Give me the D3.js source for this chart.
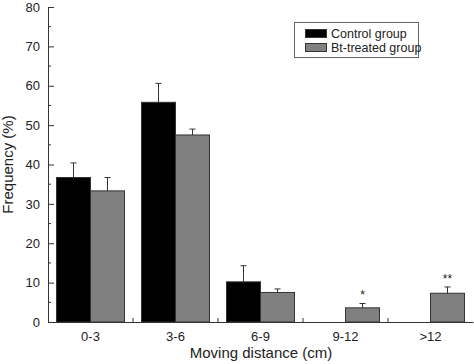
<!DOCTYPE html>
<html><head><meta charset="utf-8">
<script src="https://cdn.jsdelivr.net/npm/d3@7"></script>
<style>body{margin:0;background:#fff}svg{display:block}</style>
</head><body>
<script>
const categories = ["0-3","3-6","6-9","9-12",">12"];
const seriesNames = ["Control group","Bt-treated group"];
const controlValues = [36.7, 55.8, 10.2, 0, 0];
const controlErrors = [3.7, 4.8, 4.1, 0, 0];
const btValues = [33.3, 47.5, 7.5, 3.6, 7.3];
const btErrors = [3.4, 1.5, 0.9, 1.1, 1.6];
const significance = ["", "", "", "*", "**"];
const yTicks = [0,10,20,30,40,50,60,70,80];

const W=474,H=364;
const m={l:48,r:1,t:7,b:42};
const svg=d3.select("body").append("svg").attr("width",W).attr("height",H);
const font="Liberation Sans, Arial, sans-serif";
const x=d3.scaleBand().domain(categories).range([m.l,W-m.r]);
const y=d3.scaleLinear().domain([0,80]).range([H-m.b,m.t]);
const colors=["#000000","#808080"];
const bw=34;

// bars
const series=[{v:controlValues,e:controlErrors,c:colors[0],both:false},{v:btValues,e:btErrors,c:colors[1],both:true}];
series.forEach((s,si)=>{
  categories.forEach((cat,i)=>{
    if(s.v[i]<=0) return;
    const cx=x(cat)+x.bandwidth()/2;
    const x0=cx-bw+si*bw;
    // error bar
    const xm=x0+bw/2;
    const top=y(s.v[i]+s.e[i]);
    const bot=s.both?y(s.v[i]-s.e[i]):y(s.v[i]);
    svg.append("line").attr("x1",xm).attr("x2",xm).attr("y1",top).attr("y2",bot).attr("stroke","#333").attr("stroke-width",1);
    svg.append("line").attr("x1",xm-3).attr("x2",xm+3).attr("y1",top).attr("y2",top).attr("stroke","#333");
    if(s.both) svg.append("line").attr("x1",xm-3).attr("x2",xm+3).attr("y1",bot).attr("y2",bot).attr("stroke","#333");
    svg.append("rect").attr("x",x0).attr("y",y(s.v[i])).attr("width",bw).attr("height",y(0)-y(s.v[i]))
      .attr("fill",s.c).attr("stroke","#333").attr("stroke-width",1);
  });
});
// significance marks
categories.forEach((cat,i)=>{
  if(!significance[i]) return;
  const cx=x(cat)+x.bandwidth()/2+bw/2;
  svg.append("text").attr("x",cx).attr("y",y(btValues[i]+btErrors[i])-4).attr("text-anchor","middle")
    .attr("font-family",font).attr("font-size",12).attr("fill","#222").text(significance[i]);
});

// y axis
const ya=svg.append("g").attr("transform",`translate(${m.l},0)`)
  .call(d3.axisLeft(y).tickValues(yTicks).tickSize(-6).tickPadding(8));
ya.select(".domain").attr("stroke","#333");
ya.selectAll(".tick line").attr("stroke","#333");
ya.selectAll("text").attr("font-family",font).attr("font-size",13).attr("fill","#222");
// minor ticks
yTicks.slice(0,-1).forEach(t=>{
  svg.append("line").attr("x1",m.l).attr("x2",m.l+3).attr("y1",y(t+5)).attr("y2",y(t+5)).attr("stroke","#333");
});
// x axis
const xa=svg.append("g").attr("transform",`translate(0,${y(0)})`)
  .call(d3.axisBottom(x).tickSize(0).tickPadding(10));
xa.select(".domain").attr("stroke","#333");
xa.selectAll("text").attr("font-family",font).attr("font-size",13).attr("fill","#222");
categories.forEach((c,i)=>{ if(i>0){
  svg.append("line").attr("x1",x(c)).attr("x2",x(c)).attr("y1",y(0)).attr("y2",y(0)-4).attr("stroke","#333");
}});

// axis titles
svg.append("text").attr("x",(m.l+W)/2).attr("y",358).attr("text-anchor","middle")
  .attr("font-family",font).attr("font-size",15).attr("fill","#222").text("Moving distance (cm)");
svg.append("text").attr("transform",`translate(13,${(m.t+y(0))/2}) rotate(-90)`).attr("text-anchor","middle")
  .attr("font-family",font).attr("font-size",15).attr("fill","#222").text("Frequency (%)");

// legend
const lg=svg.append("g");
lg.append("rect").attr("x",294.5).attr("y",22.5).attr("width",124).attr("height",35).attr("fill","#fff").attr("stroke","#666");
seriesNames.forEach((n,i)=>{
  lg.append("rect").attr("x",305.5).attr("y",29.5+i*14).attr("width",21).attr("height",8).attr("fill",colors[i]).attr("stroke","#333");
  lg.append("text").attr("x",331).attr("y",38+i*14).attr("font-family",font).attr("font-size",12.5).attr("fill","#222").text(n);
});
</script>
</body></html>
